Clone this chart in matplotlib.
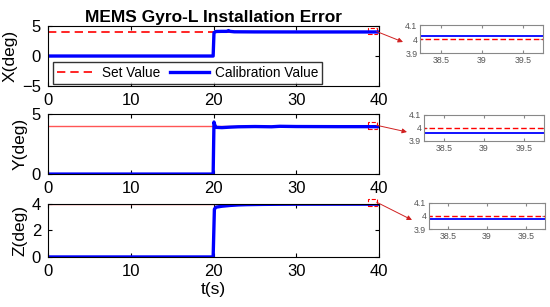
import matplotlib.pyplot as plt
from matplotlib.patches import Rectangle

plt.rcParams['font.family'] = ['Liberation Sans', 'DejaVu Sans']

# set value (deg) for all three axes
set_t = [0, 40]
set_val = [4, 4]

# calibration values
x_t = [0, 19.95, 20.05, 20.3, 21.0, 21.6, 21.8, 22.0, 22.5, 25, 30, 35, 40]
x_val = [0, 0, 3.9, 4.10, 4.12, 4.12, 4.25, 4.12, 4.05, 4.03, 4.02, 4.02, 4.02]
y_t = [0, 19.95, 20.05, 20.15, 20.3, 21, 22, 23, 25, 27, 28, 30, 35, 40]
y_val = [0, 0, 4.35, 4.1, 3.9, 3.88, 3.92, 3.95, 3.97, 3.95, 3.99, 3.97, 3.96, 3.96]
z_t = [0, 19.95, 20.1, 20.3, 21, 22, 23, 24, 26, 28, 30, 35, 40]
z_val = [0, 0, 3.6, 3.75, 3.82, 3.88, 3.92, 3.94, 3.96, 3.97, 3.975, 3.977, 3.977]

panels = [
    ('X(deg)', x_t, x_val, (-5, 5), [-5, 0, 5], '--', (3.6, 4.6), 4.019),
    ('Y(deg)', y_t, y_val, (0, 5), [0, 5], '-', (3.8, 4.35), 3.96),
    ('Z(deg)', z_t, z_val, (0, 4), [0, 2, 4], '-', (3.85, 4.4), 3.977),
]
main_pos = [[0.0873, 0.72, 0.602, 0.195],
            [0.0873, 0.433, 0.602, 0.195],
            [0.0873, 0.163, 0.602, 0.173]]
inset_pos = [[0.764, 0.827, 0.224, 0.091],
             [0.771, 0.541, 0.218, 0.085],
             [0.780, 0.254, 0.211, 0.085]]
arrow_heads = [(403 / 550, 1 - 42 / 307), (407 / 550, 1 - 132 / 307), (412 / 550, 1 - 220 / 307)]

fig = plt.figure(figsize=(5.5, 3.07), dpi=100)

for i, (lab, t, v, ylim, yticks, ls, box, inset_val) in enumerate(panels):
    ax = fig.add_axes(main_pos[i])
    if ls == '--':
        ax.plot(set_t, set_val, color='red', ls='--', lw=1.2, dashes=(5, 3), label='Set Value')
    else:
        ax.plot(set_t, set_val, color='#ff5555', lw=1.0, label='Set Value')
    ax.plot(t, v, color='blue', lw=2.4, label='Calibration Value')
    ax.set_xlim(0, 40)
    ax.set_ylim(*ylim)
    ax.set_yticks(yticks)
    ax.set_xticks([0, 10, 20, 30, 40])
    ax.tick_params(direction='in', top=True, right=True, labelsize=12, length=3, pad=5)
    ax.set_ylabel(lab, fontsize=12.5, labelpad=3)
    ax.add_patch(Rectangle((38.6, box[0]), 1.2, box[1] - box[0], fill=False,
                           ec='red', ls='--', lw=0.8, clip_on=False))
    ax.annotate('', xy=arrow_heads[i], xycoords='figure fraction',
                xytext=(39.7, (box[0] + box[1]) / 2), textcoords='data',
                arrowprops=dict(arrowstyle='-|>', color='#d02020', lw=0.7,
                                mutation_scale=7, shrinkA=0, shrinkB=0))
    if i == 0:
        ax.set_title('MEMS Gyro-L Installation Error', fontsize=12.5,
                     fontweight='bold', pad=3)
        ax.legend(loc='lower left', bbox_to_anchor=(0.015, 0.03), ncol=2,
                  fontsize=9.8, frameon=True, fancybox=False, edgecolor='black',
                  handlelength=2.9, handletextpad=0.4, borderpad=0.3,
                  columnspacing=0.7, borderaxespad=0)
    if i == 2:
        ax.set_xlabel('t(s)', fontsize=12.5, labelpad=2)

    ins = fig.add_axes(inset_pos[i])
    ins.plot([38, 40], [4, 4], color='red', ls='--', lw=1.0, dashes=(4, 2))
    ins.plot([38, 40], [inset_val, inset_val], color='blue', lw=1.3)
    ins.set_xlim(38.25, 39.75)
    ins.set_ylim(3.9, 4.1)
    ins.set_xticks([38.5, 39, 39.5])
    ins.set_xticklabels(['38.5', '39', '39.5'])
    ins.set_yticks([3.9, 4, 4.1])
    ins.set_yticklabels(['3.9', '4', '4.1'])
    ins.tick_params(direction='in', top=True, right=True, labelsize=6.3,
                    labelcolor='#555555', color='#888888', length=2, pad=2)
    for s in ins.spines.values():
        s.set_color('#888888')

fig.savefig('out.png', dpi=100)
